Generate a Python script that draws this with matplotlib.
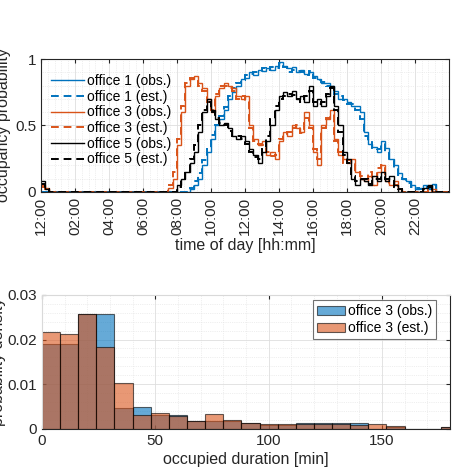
import numpy as np
import matplotlib
matplotlib.use('Agg')
import matplotlib.pyplot as plt
from matplotlib.ticker import MultipleLocator

plt.rcParams['font.family'] = ['Liberation Sans', 'DejaVu Sans']

### occupancy profiles, 15 min resolution (96 values per day)
office1_obs = [
    0, 0, 0, 0, 0, 0, 0, 0, 0, 0, 0, 0,
    0, 0, 0, 0, 0, 0, 0, 0, 0, 0, 0, 0,
    0, 0, 0, 0, 0, 0, 0, 0, 0, 0, 0, 0.02,
    0.05, 0.1, 0.2, 0.3, 0.4, 0.5, 0.55, 0.62, 0.7, 0.75, 0.8, 0.85,
    0.86, 0.9, 0.88, 0.92, 0.91, 0.93, 0.92, 0.95, 0.98, 0.95, 0.93, 0.94,
    0.9, 0.92, 0.89, 0.9, 0.87, 0.85, 0.82, 0.82, 0.8, 0.76, 0.7, 0.7,
    0.68, 0.65, 0.65, 0.6, 0.45, 0.36, 0.34, 0.3, 0.38, 0.33, 0.25, 0.2,
    0.14, 0.1, 0.08, 0.05, 0.02, 0.03, 0.05, 0.02, 0.06, 0, 0, 0]
office1_est = [
    0, 0, 0, 0, 0, 0, 0, 0, 0, 0, 0, 0,
    0, 0, 0, 0, 0, 0, 0, 0, 0, 0, 0, 0,
    0, 0, 0, 0, 0, 0, 0, 0, 0, 0, 0, 0.03,
    0.08, 0.14, 0.24, 0.33, 0.43, 0.5, 0.57, 0.64, 0.72, 0.78, 0.82, 0.84,
    0.88, 0.89, 0.9, 0.91, 0.93, 0.92, 0.94, 0.93, 0.97, 0.94, 0.9, 0.92,
    0.91, 0.9, 0.88, 0.91, 0.86, 0.84, 0.83, 0.8, 0.79, 0.74, 0.72, 0.69,
    0.66, 0.66, 0.62, 0.55, 0.42, 0.38, 0.33, 0.32, 0.36, 0.3, 0.24, 0.18,
    0.13, 0.1, 0.07, 0.04, 0.03, 0.02, 0.04, 0.03, 0.05, 0, 0, 0]
office3_obs = [
    0.05, 0.03, 0, 0, 0, 0, 0, 0, 0, 0, 0, 0,
    0, 0, 0, 0, 0, 0, 0, 0, 0, 0, 0, 0,
    0, 0, 0, 0, 0, 0, 0.03, 0.1, 0.35, 0.6, 0.8, 0.85,
    0.87, 0.82, 0.78, 0.7, 0.6, 0.72, 0.78, 0.82, 0.8, 0.78, 0.72, 0.7,
    0.72, 0.5, 0.4, 0.35, 0.38, 0.28, 0.3, 0.25, 0.38, 0.45, 0.42, 0.5,
    0.48, 0.45, 0.6, 0.5, 0.3, 0.2, 0.5, 0.55, 0.62, 0.4, 0.28, 0.25,
    0.22, 0.25, 0.15, 0.1, 0.08, 0.12, 0.05, 0.15, 0.2, 0.08, 0.05, 0.08,
    0.02, 0, 0, 0, 0, 0, 0, 0, 0.02, 0, 0, 0]
office3_est = [
    0.04, 0.02, 0, 0, 0, 0, 0, 0, 0, 0, 0, 0,
    0, 0, 0, 0, 0, 0, 0, 0, 0, 0, 0, 0,
    0, 0, 0, 0, 0, 0, 0.05, 0.15, 0.4, 0.65, 0.82, 0.86,
    0.85, 0.8, 0.76, 0.68, 0.62, 0.74, 0.8, 0.8, 0.78, 0.76, 0.7, 0.72,
    0.68, 0.48, 0.38, 0.36, 0.35, 0.3, 0.27, 0.28, 0.4, 0.43, 0.45, 0.48,
    0.5, 0.44, 0.56, 0.48, 0.32, 0.25, 0.48, 0.56, 0.58, 0.38, 0.3, 0.22,
    0.24, 0.22, 0.15, 0.12, 0.1, 0.15, 0.1, 0.18, 0.2, 0.1, 0.06, 0.05,
    0.02, 0, 0, 0, 0, 0, 0, 0.02, 0, 0, 0, 0]
office5_obs = [
    0.08, 0.02, 0, 0, 0, 0, 0, 0, 0, 0, 0, 0,
    0, 0, 0, 0, 0, 0, 0, 0, 0, 0, 0, 0,
    0, 0, 0, 0, 0, 0, 0, 0, 0.05, 0.1, 0.15, 0.22,
    0.3, 0.45, 0.6, 0.7, 0.62, 0.55, 0.5, 0.52, 0.48, 0.42, 0.4, 0.42,
    0.38, 0.32, 0.28, 0.22, 0.3, 0.38, 0.5, 0.62, 0.72, 0.75, 0.72, 0.76,
    0.7, 0.72, 0.68, 0.8, 0.65, 0.7, 0.65, 0.72, 0.8, 0.65, 0.5, 0.3,
    0.25, 0.1, 0.05, 0.1, 0.08, 0.05, 0.12, 0.08, 0.15, 0.08, 0.12, 0.05,
    0, 0, 0, 0, 0, 0, 0.03, 0.05, 0, 0, 0, 0]
office5_est = [
    0.06, 0.02, 0, 0, 0, 0, 0, 0, 0, 0, 0, 0,
    0, 0, 0, 0, 0, 0, 0, 0, 0, 0, 0, 0,
    0, 0, 0, 0, 0, 0, 0, 0, 0.04, 0.1, 0.16, 0.25,
    0.35, 0.5, 0.62, 0.68, 0.6, 0.56, 0.52, 0.5, 0.46, 0.42, 0.42, 0.4,
    0.36, 0.3, 0.26, 0.25, 0.32, 0.42, 0.55, 0.65, 0.7, 0.72, 0.74, 0.73,
    0.7, 0.68, 0.72, 0.76, 0.68, 0.66, 0.68, 0.74, 0.78, 0.62, 0.45, 0.28,
    0.22, 0.12, 0.08, 0.1, 0.1, 0.06, 0.1, 0.1, 0.12, 0.1, 0.1, 0.04,
    0.02, 0, 0, 0, 0, 0, 0.02, 0.04, 0, 0, 0, 0]

hour_ticks = [0, 2, 4, 6, 8, 10, 12, 14, 16, 18, 20, 22]
hour_labels = ['12:00', '02:00', '04:00', '06:00', '08:00', '10:00',
               '12:00', '14:00', '16:00', '18:00', '20:00', '22:00']

### occupied duration histogram for office 3, 8 min bins
dur_obs = [0.0190, 0.0190, 0.0257, 0.0257, 0.0048, 0.0049, 0.0031, 0.0031,
           0.0017, 0.0017, 0.0017, 0.0013, 0.0009, 0.0008, 0.0014, 0.0014,
           0.0014, 0.0014, 0.0000, 0.0004, 0.0001, 0.0000, 0.0004]
dur_est = [0.0216, 0.0213, 0.0257, 0.0184, 0.0102, 0.0031, 0.0035, 0.0030,
           0.0017, 0.0033, 0.0020, 0.0013, 0.0012, 0.0010, 0.0010, 0.0011,
           0.0012, 0.0008, 0.0010, 0.0006, 0.0001, 0.0001, 0.0004]
bin_width = 8

blue = '#0072BD'
orange = '#D95319'
axcol = '0.15'


def style_axes(ax):
    ax.tick_params(which='both', direction='in', top=True, right=True,
                   colors=axcol, labelsize=11, length=3)
    ax.tick_params(which='minor', length=0)
    for s in ax.spines.values():
        s.set_color(axcol)
        s.set_linewidth(0.8)
    ax.grid(which='major', color='0.87', linewidth=0.6)
    ax.grid(which='minor', color='0.88', linewidth=0.5, linestyle=':')
    ax.set_axisbelow(True)


fig = plt.figure(figsize=(4.74, 4.74), dpi=100)

### top: occupancy probability
ax1 = fig.add_axes([0.0865, 0.595, 0.8605, 0.2805])
edges = np.arange(97) * 0.25
series = [(office1_obs, office1_est, blue, 'office 1'),
          (office3_obs, office3_est, orange, 'office 3'),
          (office5_obs, office5_est, 'black', 'office 5')]
for obs, est, col, name in series:
    ax1.stairs(obs, edges, baseline=None, color=col, lw=1.0, label=name + ' (obs.)')
    ax1.stairs(est, edges, baseline=None, color=col, lw=1.4, ls=(0, (4, 2.5)),
               label=name + ' (est.)')
ax1.set_xlim(0, 24)
ax1.set_ylim(0, 1)
ax1.set_xticks(hour_ticks)
ax1.set_xticklabels(hour_labels, rotation=90)
ax1.set_yticks([0, 0.5, 1])
ax1.set_yticklabels(['0', '0.5', '1'])
ax1.xaxis.set_minor_locator(MultipleLocator(0.4))
ax1.yaxis.set_minor_locator(MultipleLocator(0.1))
style_axes(ax1)
ax1.set_xlabel('time of day [hh:mm]', fontsize=11.5, color=axcol, labelpad=2)
ax1.set_ylabel('occupancy probability', fontsize=11.5, color=axcol)
ax1.yaxis.set_label_coords(-0.074, 0.5)
ax1.legend(loc='upper left', frameon=False, fontsize=10, handlelength=2.4,
           handletextpad=0.2, labelspacing=0.12, borderaxespad=0.3,
           bbox_to_anchor=(0.0, 0.96))

### bottom: duration histogram
ax2 = fig.add_axes([0.0886, 0.095, 0.8604, 0.283])
left = np.arange(len(dur_obs)) * bin_width
ax2.bar(left, dur_obs, width=bin_width, align='edge', color=blue, alpha=0.6,
        edgecolor='black', linewidth=0.8, label='office 3 (obs.)')
ax2.bar(left, dur_est, width=bin_width, align='edge', color=orange, alpha=0.6,
        edgecolor='black', linewidth=0.8, label='office 3 (est.)')
ax2.set_xlim(0, 180)
ax2.set_ylim(0, 0.03)
ax2.set_xticks([0, 50, 100, 150])
ax2.set_yticks([0, 0.01, 0.02, 0.03])
ax2.set_yticklabels(['0', '0.01', '0.02', '0.03'])
ax2.xaxis.set_minor_locator(MultipleLocator(10))
ax2.yaxis.set_minor_locator(MultipleLocator(0.002))
style_axes(ax2)
ax2.spines['top'].set_color('0.85')
ax2.spines['left'].set_color('0.85')
ax2.set_xlabel('occupied duration [min]', fontsize=11.5, color=axcol, labelpad=3)
ax2.set_ylabel('probability density', fontsize=11.5, color=axcol)
ax2.yaxis.set_label_coords(-0.088, 0.5)
leg = ax2.legend(loc='upper right', fontsize=10, fancybox=False,
                 handlelength=2.0, handletextpad=0.2, labelspacing=0.2,
                 borderpad=0.3, borderaxespad=0.25, bbox_to_anchor=(0.975, 0.985))
leg.get_frame().set_edgecolor('0.3')
leg.get_frame().set_linewidth(0.8)

plt.savefig('out.png', dpi=100)
